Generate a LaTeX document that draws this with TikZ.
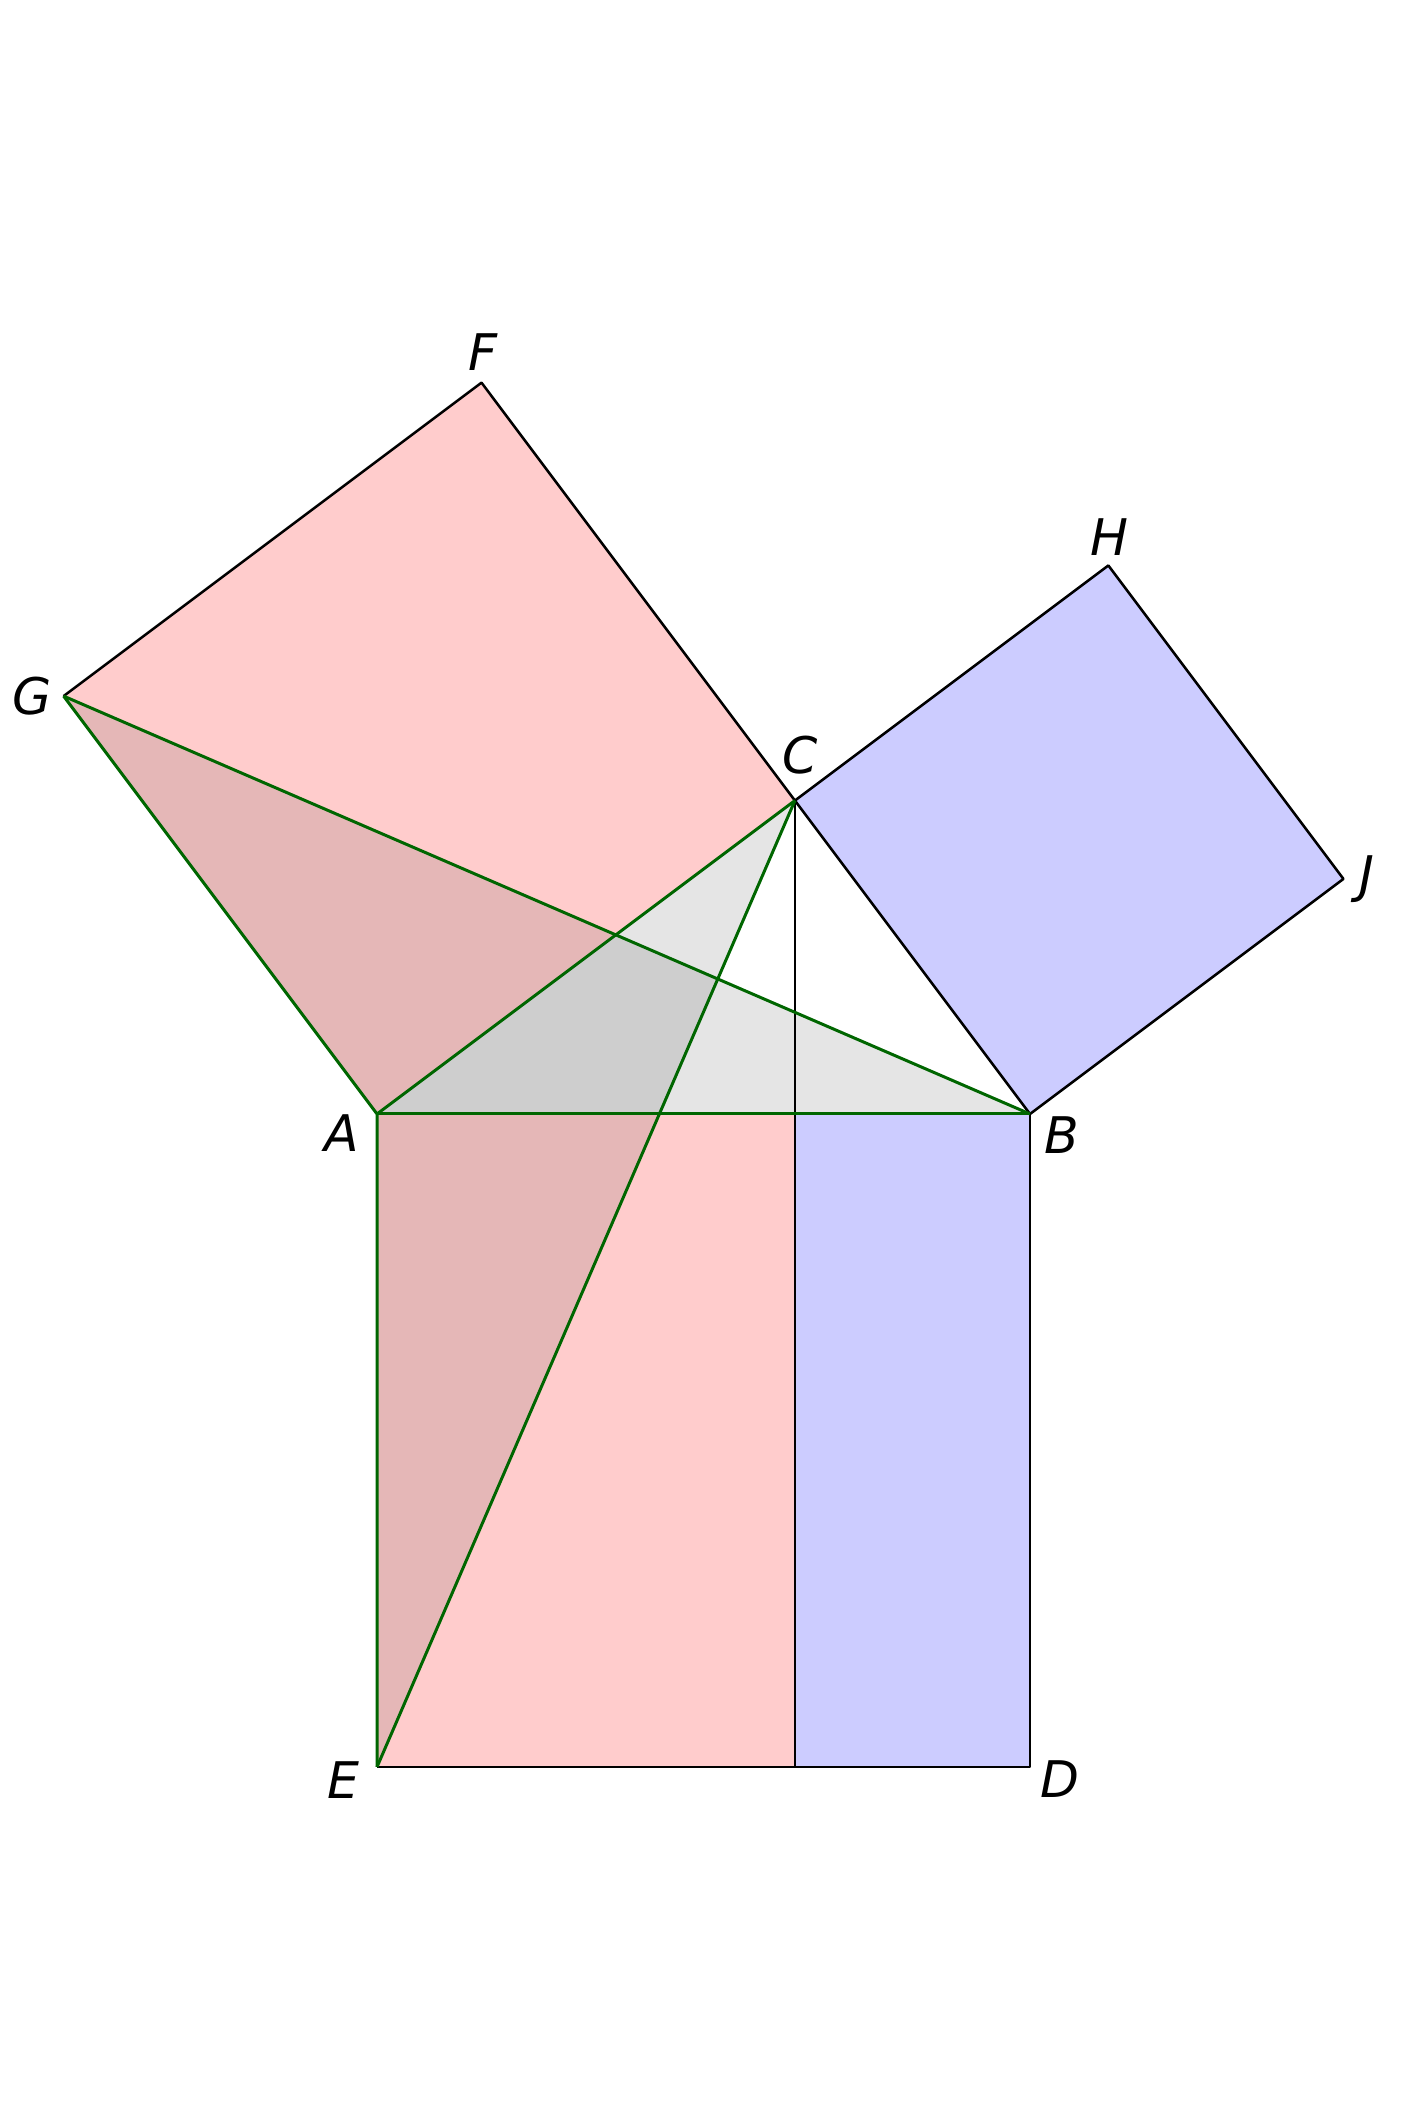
\documentclass[tikz,border=0pt]{standalone}
\usepackage{fontspec}
\setmainfont{DejaVu Sans}

\begin{document}
\begin{tikzpicture}
   \tikzstyle{side}=[draw=black, line width=0.55pt, line join=round]
   \tikzstyle{seg}=[draw=green!40!black, line width=0.65pt, line join=round]
   \tikzstyle{shade}=[fill=black, fill opacity=0.1]
   \tikzstyle{lbl}=[font=\fontsize{11}{13}\selectfont\itshape, inner sep=0pt]
   \definecolor{pinkfill}{RGB}{255,204,204}
   \definecolor{bluefill}{RGB}{204,204,255}

\useasboundingbox (-2.887,-7.734) rectangle (7.955,8.530);

% triangle and squares
\coordinate (A) at (0,0);
\coordinate (B) at (5,0);
\coordinate (C) at (3.2,2.4);
\coordinate (D) at (5,-5);
\coordinate (E) at (0,-5);
\coordinate (F) at (0.8,5.6);
\coordinate (G) at (-2.4,3.2);
\coordinate (H) at (5.6,4.2);
\coordinate (J) at (7.4,1.8);
\coordinate (K) at (3.2,0);
\coordinate (L) at (3.2,-5);

\fill[pinkfill] (A) -- (C) -- (F) -- (G) -- cycle;
\fill[bluefill] (C) -- (B) -- (J) -- (H) -- cycle;
\fill[pinkfill] (A) -- (K) -- (L) -- (E) -- cycle;
\fill[bluefill] (K) -- (B) -- (D) -- (L) -- cycle;

\fill[shade] (G) -- (A) -- (B) -- cycle;
\fill[shade] (C) -- (A) -- (E) -- cycle;

\draw[side] (G) -- (F) -- (C);
\draw[side] (C) -- (H) -- (J) -- (B) -- cycle;
\draw[side] (E) -- (D) -- (B);
\draw[side] (C) -- (L);

\draw[seg] (A) -- (B);
\draw[seg] (A) -- (C);
\draw[seg] (G) -- (A) -- (E);
\draw[seg] (G) -- (B);
\draw[seg] (C) -- (E);

% labels
\node[lbl] (lA) at ([shift={(-0.27,-0.15)}]A) {A};
\node[lbl] (lB) at ([shift={(0.245,-0.16)}]B) {B};
\node[lbl] (lC) at ([shift={(0.04,0.35)}]C) {C};
\node[lbl] (lD) at ([shift={(0.23,-0.09)}]D) {D};
\node[lbl] (lE) at ([shift={(-0.26,-0.10)}]E) {E};
\node[lbl] (lF) at ([shift={(0.015,0.237)}]F) {F};
\node[lbl] (lG) at ([shift={(-0.24,0)}]G) {G};
\node[lbl] (lH) at ([shift={(0.01,0.22)}]H) {H};
\node[lbl] (lJ) at ([shift={(0.18,0)}]J) {J};

\end{tikzpicture}
\end{document}
